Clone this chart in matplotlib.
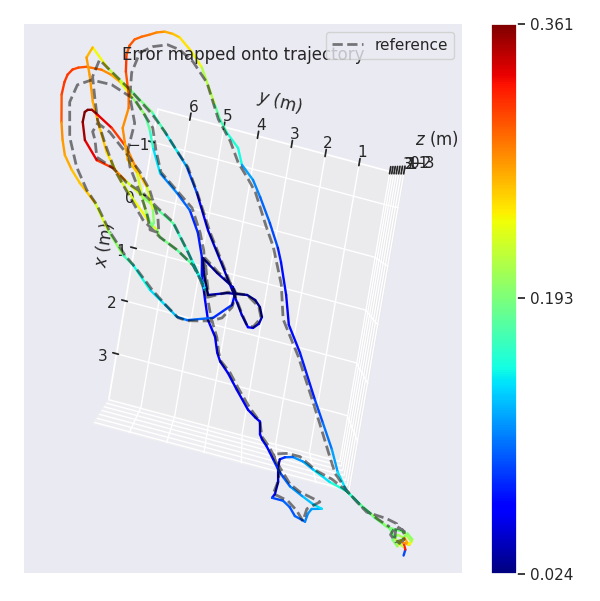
import matplotlib
matplotlib.use("Agg")
import matplotlib.pyplot as plt
import numpy as np
import seaborn as sns
from mpl_toolkits.mplot3d.art3d import Line3DCollection

sns.set_theme(style="darkgrid")

x_ticks = [-1, 0, 1, 2, 3]
y_ticks = [1, 2, 3, 4, 5, 6]
z_ticks = [-3, -2, -1, 0, 1, 2, 3]
err_ticks = [0.024, 0.193, 0.361]

# estimated trajectory, metres
traj_x = [4.96, 4.85, 4.74, 4.74, 4.64, 4.56, 4.70, 4.83, 4.74, 4.63, 4.65, 4.75, 4.68, 4.55, 4.55, 4.54,
          4.44, 4.27, 4.11, 4.03, 3.89, 3.80, 3.77, 3.81, 3.87, 4.01, 4.27, 4.49, 4.57, 4.57, 4.65, 4.78,
          4.83, 4.68, 4.58, 4.53, 4.49, 4.40, 4.29, 4.16, 4.05, 3.90, 3.71, 3.61, 3.53, 3.31, 3.26, 3.16,
          2.87, 2.62, 2.46, 2.32, 2.06, 1.80, 1.47, 1.06, 0.75, 0.35, 0.00, -0.24, -0.50, -0.91, -1.19,
          -1.43, -1.68, -1.88, -1.96, -2.00, -1.98, -1.93, -1.87, -1.76, -1.62, -1.39, -0.92, -0.62, -0.37, -0.15, 0.04, 0.31, 0.72,
          1.08, 1.20, 1.55, 1.74, 1.89, 1.90, 1.74, 1.43, 1.21, 1.12, 0.95, 0.76, 1.05, 1.37, 1.25, 1.19, 1.24,
          1.34, 1.50, 1.63, 1.73, 1.74, 1.56, 1.28, 0.82, 0.26, -0.33, -0.73, -0.93, -1.23, -1.51, -1.79, -2.06,
          -2.34, -2.14, -1.86, -1.41, -1.00, -0.60, -0.45, -0.17, 0.11, 0.40, 0.49, 0.60, 0.74, 0.93, 1.07,
          1.19, 1.30, 1.10, 0.70, 0.30, 0.14, -0.01, -0.22, -0.37, -0.43, -0.72, -1.02, -1.20, -1.25, -1.27, -1.21,
          -1.05, -0.78, -0.45, -0.20, 0.17, 0.38, 0.45, 0.23, -0.12, -0.41, -0.58, -0.87, -1.10, -1.47,
          -1.70, -2.08, -2.37, -2.54, -2.67, -2.75, -2.82, -2.89, -2.94, -2.94, -2.91, -2.72, -2.50, -1.92, -1.69, -1.50, -1.29, -1.02,
          -0.81, -0.55, -0.15, 0.24, 0.47, 1.01, 1.51, 1.94, 2.68, 3.04, 3.46, 3.82, 4.11, 4.27, 4.40, 4.56,
          4.71, 4.81]
traj_y = [-1.87, -1.89, -1.81, -1.98, -2.03, -1.87, -1.74, -1.66, -1.50, -1.61, -1.81, -1.95, -2.02, -1.76,
          -1.53, -1.28, -0.91, -0.44, -0.03, 0.47, 0.98, 1.29, 1.58, 1.79, 1.92, 1.93, 1.86, 1.89, 1.95,
          1.64, 1.43, 1.25, 0.95, 0.91, 0.83, 0.56, 0.82, 1.15, 1.52, 1.75, 1.92, 2.10, 2.33, 2.49, 2.57,
          2.63, 2.78, 3.01, 3.40, 3.72, 3.98, 4.10, 4.23, 4.50, 4.67, 4.87, 4.95, 5.17, 5.49, 5.92, 6.46,
          6.77, 6.93, 7.13, 7.57, 7.96, 8.23, 8.50, 8.92, 9.13, 9.28, 9.39, 9.44, 9.46, 9.34, 9.23, 9.10, 8.85, 8.57, 8.07, 7.60,
          7.08, 6.77, 6.20, 5.72, 5.35, 5.06, 4.37, 3.92, 3.89, 3.98, 4.47, 4.92, 4.81, 4.61, 4.11, 3.56, 3.32,
          3.16, 3.06, 3.11, 3.25, 3.39, 3.61, 3.88, 4.34, 4.91, 5.38, 5.77, 6.07, 6.52, 6.96, 7.65, 8.35, 8.84,
          8.96, 8.80, 8.59, 8.29, 7.98, 7.80, 7.45, 7.00, 6.50, 6.28, 6.17, 5.65, 5.15, 4.97, 4.80, 4.72,
          4.91, 5.38, 5.88, 6.35, 6.81, 7.37, 7.75, 8.22, 8.63, 8.77, 8.76, 8.69, 8.58, 8.40, 7.96, 7.47, 7.10,
          6.75, 6.48, 6.40, 6.44, 6.66, 6.90, 7.09, 7.39, 7.55, 7.67, 7.60, 7.66, 7.84, 7.90, 7.86, 7.75, 7.57, 7.37,
          7.19, 6.98, 6.75, 6.55, 6.16, 5.82, 5.30, 5.09, 4.85, 4.48, 4.30, 3.93, 3.66, 3.28, 2.95, 2.80, 2.51, 2.30,
          1.87, 1.25, 0.93, 0.56, 0.30, -0.03, -0.44, -0.82, -1.37, -1.57, -1.80]
traj_err = [0.09, 0.32, 0.28, 0.24, 0.20, 0.19, 0.24, 0.20, 0.19, 0.21, 0.27, 0.24, 0.21, 0.19, 0.19, 0.18,
            0.17, 0.17, 0.155, 0.14, 0.125, 0.115, 0.10, 0.08, 0.04, 0.04, 0.05, 0.07, 0.09, 0.10, 0.095,
            0.10, 0.11, 0.115, 0.12, 0.14, 0.13, 0.115, 0.10, 0.09, 0.08, 0.07, 0.07, 0.065, 0.06, 0.06, 0.06,
            0.06, 0.06, 0.06, 0.06, 0.06, 0.06, 0.06, 0.065, 0.07, 0.075, 0.08, 0.10, 0.11, 0.14, 0.16, 0.18,
            0.20, 0.235, 0.27, 0.28, 0.29, 0.30, 0.305, 0.31, 0.31, 0.31, 0.30, 0.28, 0.275, 0.27, 0.26, 0.26, 0.23, 0.20, 0.17, 0.15,
            0.14, 0.13, 0.11, 0.10, 0.08, 0.07, 0.05, 0.04, 0.035, 0.03, 0.03, 0.04, 0.04, 0.03, 0.03, 0.03, 0.04,
            0.05, 0.06, 0.06, 0.05, 0.045, 0.05, 0.065, 0.09, 0.12, 0.145, 0.17, 0.19, 0.22, 0.24, 0.265, 0.275, 0.275,
            0.27, 0.26, 0.25, 0.24, 0.23, 0.24, 0.23, 0.20, 0.19, 0.18, 0.15, 0.14, 0.14, 0.14, 0.15, 0.16,
            0.18, 0.20, 0.23, 0.28, 0.31, 0.33, 0.35, 0.36, 0.36, 0.36, 0.35, 0.33, 0.31, 0.28, 0.26, 0.23, 0.20,
            0.19, 0.19, 0.21, 0.23, 0.26, 0.27, 0.28, 0.28, 0.29, 0.30, 0.31, 0.30, 0.30, 0.295, 0.29, 0.285, 0.28, 0.27, 0.26, 0.25,
            0.24, 0.215, 0.18, 0.17, 0.155, 0.15, 0.12, 0.11, 0.10, 0.09, 0.075, 0.07, 0.06, 0.07, 0.075, 0.09,
            0.105, 0.12, 0.14, 0.16, 0.18, 0.20, 0.19, 0.22, 0.26]

# reference trajectory, metres
ref_x = [4.49, 4.54, 4.69, 4.76, 4.66, 4.52, 4.52, 4.64, 4.77, 4.71, 4.44, 4.40, 4.38, 4.12, 3.97, 3.90,
         3.73, 3.73, 3.81, 4.09, 4.31, 4.50, 4.51, 4.55, 4.68, 4.83, 4.60, 4.42, 4.34, 4.25, 4.01, 3.81,
         3.68, 3.56, 3.31, 3.25, 3.12, 2.85, 2.60, 2.45, 2.31, 2.06, 1.74, 1.38, 0.91, 0.63, 0.34, -0.05,
         -0.26, -0.52, -0.88, -1.24, -1.64, -1.79, -1.78, -1.63, -1.30, -0.70, -0.22, 0.13, 0.34, 0.74,
         1.07, 1.23, 1.54, 1.74, 1.90, 1.91, 1.81, 1.70, 1.47, 1.22, 1.09, 0.93, 0.75, 1.12, 1.40, 1.23,
         1.19, 1.34, 1.52, 1.71, 1.71, 1.54, 1.25, 0.82, 0.28, -0.30, -0.73, -0.94, -1.23, -1.46, -1.79,
         -2.01, -2.16, -1.84, -1.50, -1.12, -0.76, -0.34, 0.05, 0.38, 0.60, 0.74, 0.93, 1.22, 1.38, 1.12,
         0.70, 0.28, 0.11, -0.08, -0.18, -0.37, -0.48, -0.77, -0.90, -1.07, -0.97, -0.66, -0.43, -0.16,
         0.26, 0.53, 0.52, 0.25, -0.07, -0.47, -0.75, -1.24, -1.67, -2.09, -2.47, -2.63, -2.73, -2.70,
         -2.56, -2.26, -1.69, -1.37, -1.04, -0.80, -0.61, -0.07, 0.24, 0.85, 1.44, 2.01, 2.73, 3.08, 3.55,
         3.86, 4.12, 4.31, 4.45, 4.53]
ref_y = [-1.57, -1.78, -1.79, -1.59, -1.42, -1.50, -1.72, -1.84, -1.70, -1.55, -1.53, -1.24, -0.67, -0.07,
         0.43, 0.87, 1.39, 1.73, 2.13, 1.86, 1.88, 1.94, 1.80, 1.51, 1.22, 1.01, 0.96, 0.64, 1.23, 1.53,
         1.88, 2.13, 2.30, 2.51, 2.63, 2.74, 2.97, 3.35, 3.67, 3.96, 4.06, 4.18, 4.43, 4.64, 4.83, 4.93,
         5.11, 5.44, 5.89, 6.44, 6.68, 6.86, 7.47, 8.16, 8.72, 9.08, 9.21, 9.05, 8.73, 8.35, 8.01, 7.54,
         7.03, 6.70, 6.14, 5.70, 5.31, 5.06, 4.44, 4.13, 3.91, 3.86, 4.01, 4.45, 4.86, 4.71, 4.58, 4.09,
         3.56, 3.19, 3.08, 3.25, 3.43, 3.61, 3.89, 4.31, 4.85, 5.34, 5.74, 6.08, 6.52, 6.92, 7.65, 8.22,
         8.60, 8.71, 8.56, 8.38, 8.08, 7.69, 7.16, 6.71, 6.17, 5.65, 5.15, 4.79, 4.67, 4.91, 5.38, 5.89,
         6.36, 6.83, 7.31, 7.75, 8.23, 8.36, 8.46, 8.36, 8.00, 7.41, 7.01, 6.66, 6.32, 6.22, 6.47, 6.63,
         6.91, 7.30, 7.43, 7.37, 7.62, 7.68, 7.55, 7.23, 6.84, 6.49, 6.09, 5.61, 5.14, 4.72, 4.41, 4.06,
         3.81, 3.36, 3.08, 2.69, 2.48, 1.90, 1.29, 1.00, 0.62, 0.36, -0.07, -0.51, -1.00, -1.36]
flight_z = 0.0

fig = plt.figure(figsize=(6, 6.01), dpi=100)
ax = fig.add_axes([24 / 600, 28 / 601, 438 / 600, 549 / 601], projection="3d")
# the 3d axes fills its whole box instead of staying square
ax.apply_aspect = lambda position=None: None
ax.computed_zorder = False
ax.view_init(elev=-87.7, azim=167.9)
ax.set_box_aspect((1, 1, 1), zoom=0.954)

norm = plt.Normalize(err_ticks[0], err_ticks[-1])
pts = np.column_stack([traj_x, traj_y, np.full(len(traj_x), flight_z)])
segs = np.stack([pts[:-1], pts[1:]], axis=1)
lc = Line3DCollection(segs, cmap="jet", norm=norm, linewidths=1.7, capstyle="round", zorder=2)
lc.set_array(np.array(traj_err[:-1]))
ax.add_collection3d(lc, autolim=False)
ax.plot(ref_x, ref_y, np.full(len(ref_x), flight_z), "--", color="black", alpha=0.5, lw=2,
        label="reference", zorder=3)

ax.set_xlim(-1.62, 3.85)
ax.set_ylim(0.11, 6.95)
ax.set_zlim(-3.3, 3.3)
ax.set_xticks(x_ticks)
ax.set_yticks(y_ticks)
ax.set_zticks(z_ticks)
ax.set_xlabel("$x$ (m)")
ax.set_ylabel("$y$ (m)")
ax.set_zlabel("$z$ (m)")
ax.set_title("Error mapped onto trajectory", y=0.9985)
ax.legend(frameon=True, loc="upper right")

cax = fig.add_axes([491 / 600, 27.5 / 601, 25.5 / 600, 549.5 / 601])
sm = plt.cm.ScalarMappable(norm=norm, cmap="jet")
cbar = fig.colorbar(sm, cax=cax, ticks=err_ticks)
cbar.ax.set_yticklabels(["%.3f" % t for t in err_ticks])

fig.savefig("out.png", dpi=100)
